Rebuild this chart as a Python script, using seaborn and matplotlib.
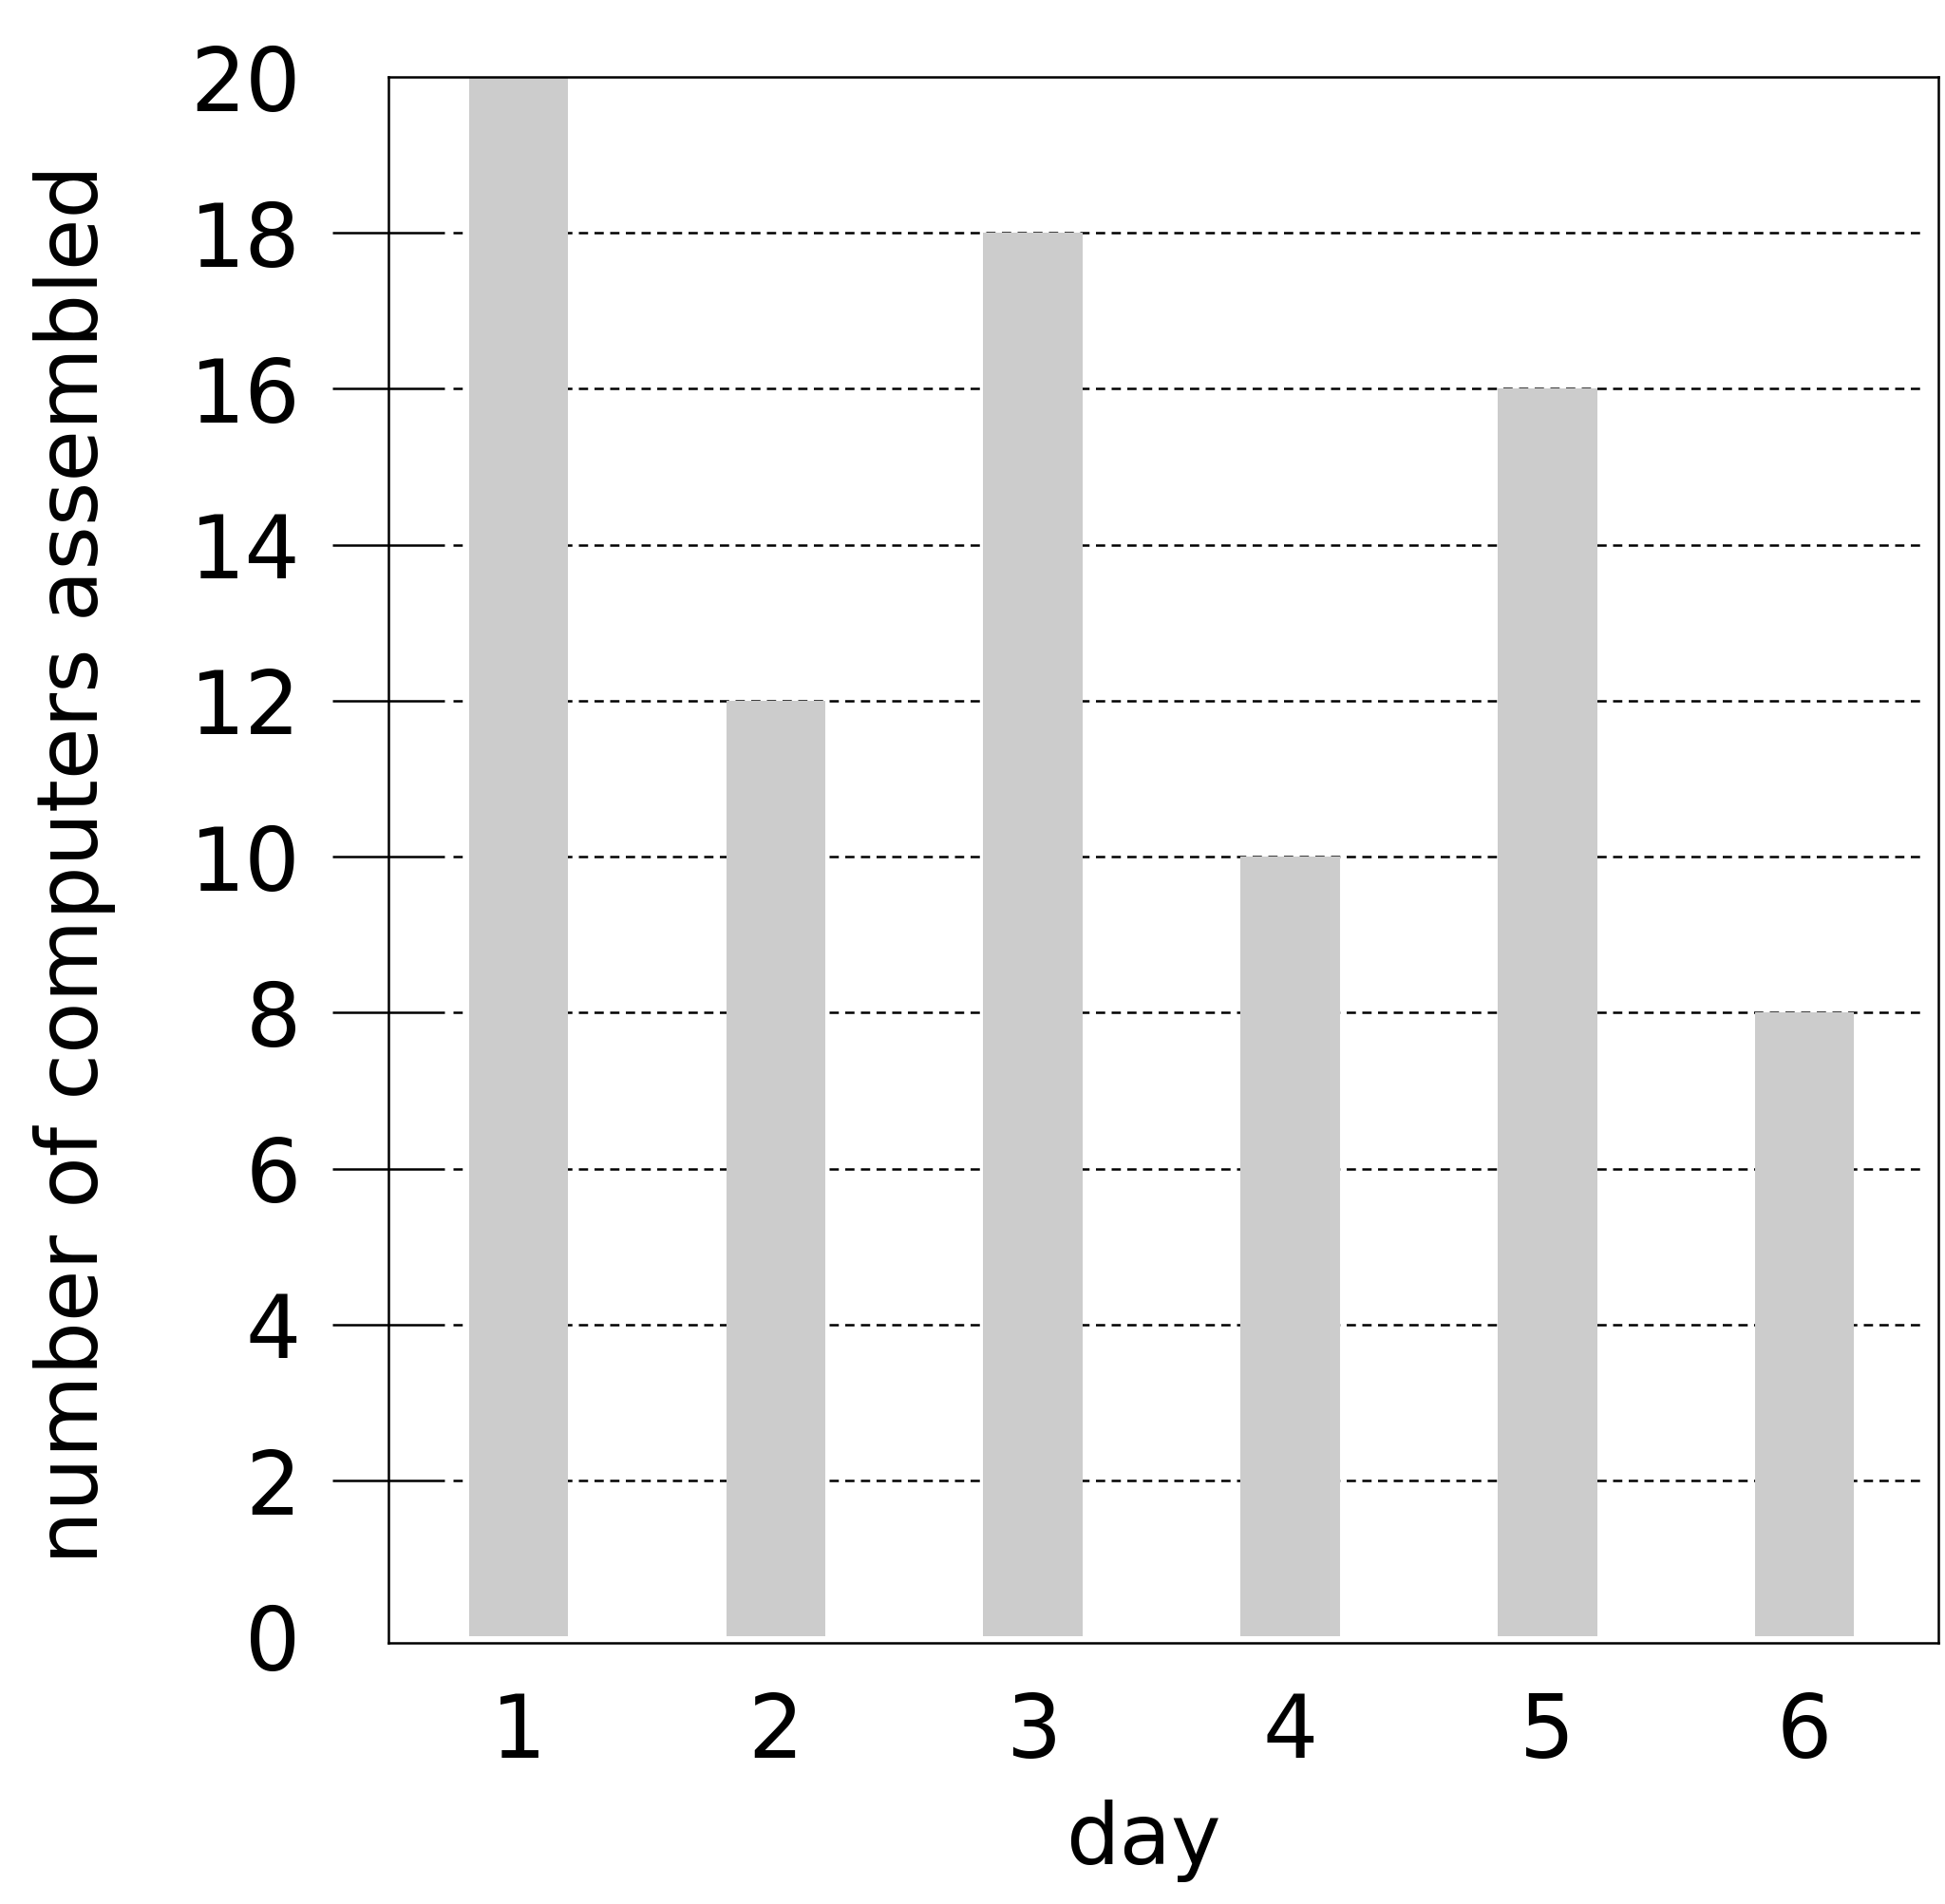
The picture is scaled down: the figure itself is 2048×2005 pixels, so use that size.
import matplotlib
matplotlib.use("Agg")
import matplotlib.pyplot as plt
import seaborn as sns
import pandas as pd

days = ["1", "2", "3", "4", "5", "6"]
computers = [20, 12, 18, 10, 16, 8]
y_ticks = [0, 2, 4, 6, 8, 10, 12, 14, 16, 18, 20]
grid_levels = [2, 4, 6, 8, 10, 12, 14, 16, 18]
x_label = "day"
y_label = "number of computers assembled"

sns.set_theme(style="white")
plt.rcParams['font.family'] = ['DejaVu Sans']
plt.rcParams['text.color'] = 'black'
plt.rcParams['axes.labelcolor'] = 'black'
plt.rcParams['xtick.color'] = 'black'
plt.rcParams['ytick.color'] = 'black'

df = pd.DataFrame({"day": days, "computers": computers})

fig = plt.figure(figsize=(20.48, 20.05), dpi=100)
ax = fig.add_axes([0.1997, 0.1372, 0.9966 - 0.1997, 0.9596 - 0.1372])

ax.hlines(grid_levels, xmin=-0.256, xmax=5.45, colors="black",
          linewidth=1.8, linestyles=(0, (3.9, 2.7)), zorder=0.5)

sns.barplot(data=df, x="day", y="computers", color="#cccccc", saturation=1,
            width=0.386, linewidth=0, ax=ax, zorder=2)

ax.set_xlim(-0.506, 5.52)
ax.set_ylim(-0.08, 20)
ax.set_yticks(y_ticks)
ax.set_yticklabels([str(v) for v in y_ticks])

for s in ax.spines.values():
    s.set_visible(True)
    s.set_color("black")
    s.set_linewidth(1.8)

ax.tick_params(axis="y", direction="inout", length=85, width=1.8,
               color="black", labelcolor="black", labelsize=66, pad=24, left=True)
ax.tick_params(axis="x", length=0, labelsize=66, labelcolor="black", pad=36)
yt = ax.yaxis.get_major_ticks()
yt[0].tick1line.set_visible(False)
yt[-1].tick1line.set_visible(False)

ax.set_xlabel(x_label, fontsize=64, color="black")
ax.set_ylabel(y_label, fontsize=64, color="black")
ax.xaxis.set_label_coords(0.487, -0.100)
ax.yaxis.set_label_coords(-0.176, 0.497)

fig.savefig("out.png", dpi=100, facecolor="white")
